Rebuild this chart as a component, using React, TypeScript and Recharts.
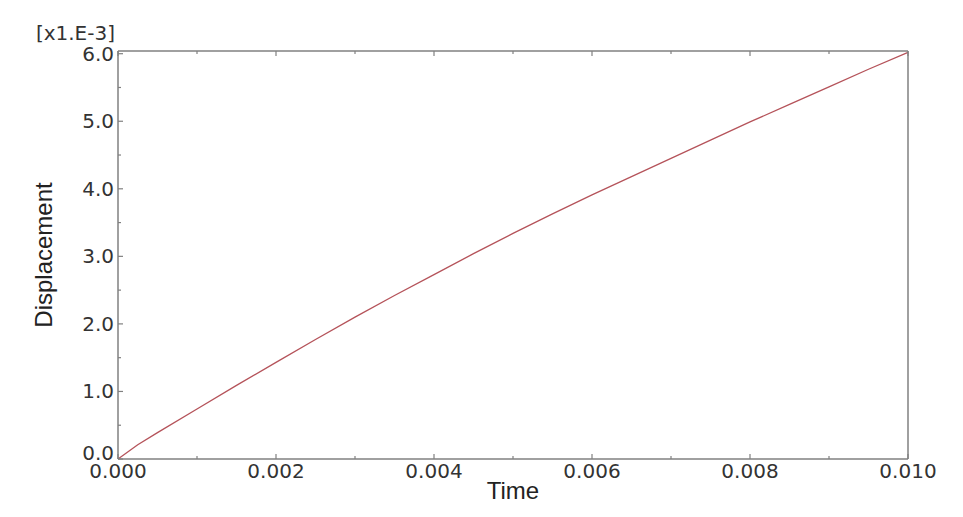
import { LineChart, Line, XAxis, YAxis } from 'recharts';

// time (s) vs displacement (x1e-3)
const time = [0, 0.00025, 0.0005, 0.001, 0.0015, 0.002, 0.0025, 0.003, 0.0035, 0.004, 0.0045, 0.005,
  0.0055, 0.006, 0.0065, 0.007, 0.0075, 0.008, 0.0085, 0.009, 0.0095, 0.01];
const displacement = [0, 0.21, 0.39, 0.74, 1.09, 1.43, 1.77, 2.1, 2.42, 2.73, 3.04, 3.34,
  3.63, 3.91, 4.18, 4.45, 4.72, 4.99, 5.25, 5.51, 5.77, 6.02];

const xTicks = [0, 0.001, 0.002, 0.003, 0.004, 0.005, 0.006, 0.007, 0.008, 0.009, 0.01];
const yTicks = [0, 0.5, 1, 1.5, 2, 2.5, 3, 3.5, 4, 4.5, 5, 5.5, 6];

const data = time.map((t, i) => ({ t, d: displacement[i] }));

const AXIS = '#808080';
const TICK_FONT = { fontFamily: 'DejaVu Sans', fontSize: 20, fill: '#333' };
const TITLE_FONT = { fontFamily: 'Liberation Sans', fontSize: 24, fill: '#222' };

const isMajorX = (v: number) => Math.round(v * 1000) % 2 === 0;
const isMajorY = (v: number) => Math.round(v * 2) % 2 === 0;

function BottomTick({ x, y, payload }: any) {
  const major = isMajorX(payload.value);
  return (
    <g>
      <line x1={x} x2={x} y1={y} y2={y - (major ? 5 : 3)} stroke={AXIS} strokeWidth={1.2} />
      {major && (
        <text x={x} y={y + 19} textAnchor="middle" {...TICK_FONT}>
          {payload.value.toFixed(3)}
        </text>
      )}
    </g>
  );
}

function TopTick({ x, y, payload }: any) {
  const major = isMajorX(payload.value);
  return <line x1={x} x2={x} y1={y} y2={y + (major ? 5 : 3)} stroke={AXIS} strokeWidth={1.2} />;
}

function LeftTick({ x, y, payload }: any) {
  const major = isMajorY(payload.value);
  return (
    <g>
      <line x1={x} x2={x + (major ? 5 : 3)} y1={y} y2={y} stroke={AXIS} strokeWidth={1.2} />
      {major && (
        <text x={x - 4} y={y + 7 - (payload.value === 0 ? 6 : 0)} textAnchor="end" {...TICK_FONT}>
          {payload.value.toFixed(1)}
        </text>
      )}
    </g>
  );
}

function RightTick({ x, y, payload }: any) {
  const major = isMajorY(payload.value);
  return <line x1={x} x2={x - (major ? 5 : 3)} y1={y} y2={y} stroke={AXIS} strokeWidth={1.2} />;
}

export default function App() {
  return (
    <div style={{ position: 'absolute', left: 0, top: 0, background: '#fff' }}>
      <LineChart width={963} height={517} data={data} margin={{ top: 0, right: 0, bottom: 0, left: 0 }}>
        <XAxis
          xAxisId="b"
          dataKey="t"
          type="number"
          domain={[0, 0.01]}
          ticks={xTicks}
          interval={0}
          height={58}
          tickSize={0}
          tickMargin={0}
          tick={<BottomTick />}
          axisLine={{ stroke: AXIS, strokeWidth: 1.5 }}
          label={{
            content: ({ viewBox }: any) => (
              <text x={viewBox.x + viewBox.width / 2} y={viewBox.y + 40} textAnchor="middle" {...TITLE_FONT}>
                Time
              </text>
            ),
          }}
        />
        <XAxis
          xAxisId="t"
          orientation="top"
          dataKey="t"
          type="number"
          domain={[0, 0.01]}
          ticks={xTicks}
          interval={0}
          height={51}
          tickSize={0}
          tickMargin={0}
          tick={<TopTick />}
          axisLine={{ stroke: AXIS, strokeWidth: 1.5 }}
        />
        <YAxis
          yAxisId="l"
          type="number"
          domain={[0, 6.04]}
          ticks={yTicks}
          interval={0}
          width={118}
          tickSize={0}
          tickMargin={0}
          tick={<LeftTick />}
          axisLine={{ stroke: AXIS, strokeWidth: 1.5 }}
          label={{
            content: ({ viewBox }: any) => (
              <g>
                <text
                  x={43}
                  y={viewBox.y + viewBox.height / 2}
                  textAnchor="middle"
                  dominantBaseline="central"
                  transform={`rotate(-90 43 ${viewBox.y + viewBox.height / 2})`}
                  {...TITLE_FONT}
                >
                  Displacement
                </text>
                <text x={viewBox.x + viewBox.width - 3} y={viewBox.y - 11} textAnchor="end" {...TICK_FONT}>
                  [x1.E-3]
                </text>
              </g>
            ),
          }}
        />
        <YAxis
          yAxisId="r"
          orientation="right"
          type="number"
          domain={[0, 6.04]}
          ticks={yTicks}
          interval={0}
          width={55}
          tickSize={0}
          tickMargin={0}
          tick={<RightTick />}
          axisLine={{ stroke: AXIS, strokeWidth: 1.5 }}
        />
        <Line
          xAxisId="b"
          yAxisId="l"
          type="linear"
          dataKey="d"
          stroke="#b5535a"
          strokeWidth={1.3}
          dot={false}
          isAnimationActive={false}
        />
      </LineChart>
    </div>
  );
}
